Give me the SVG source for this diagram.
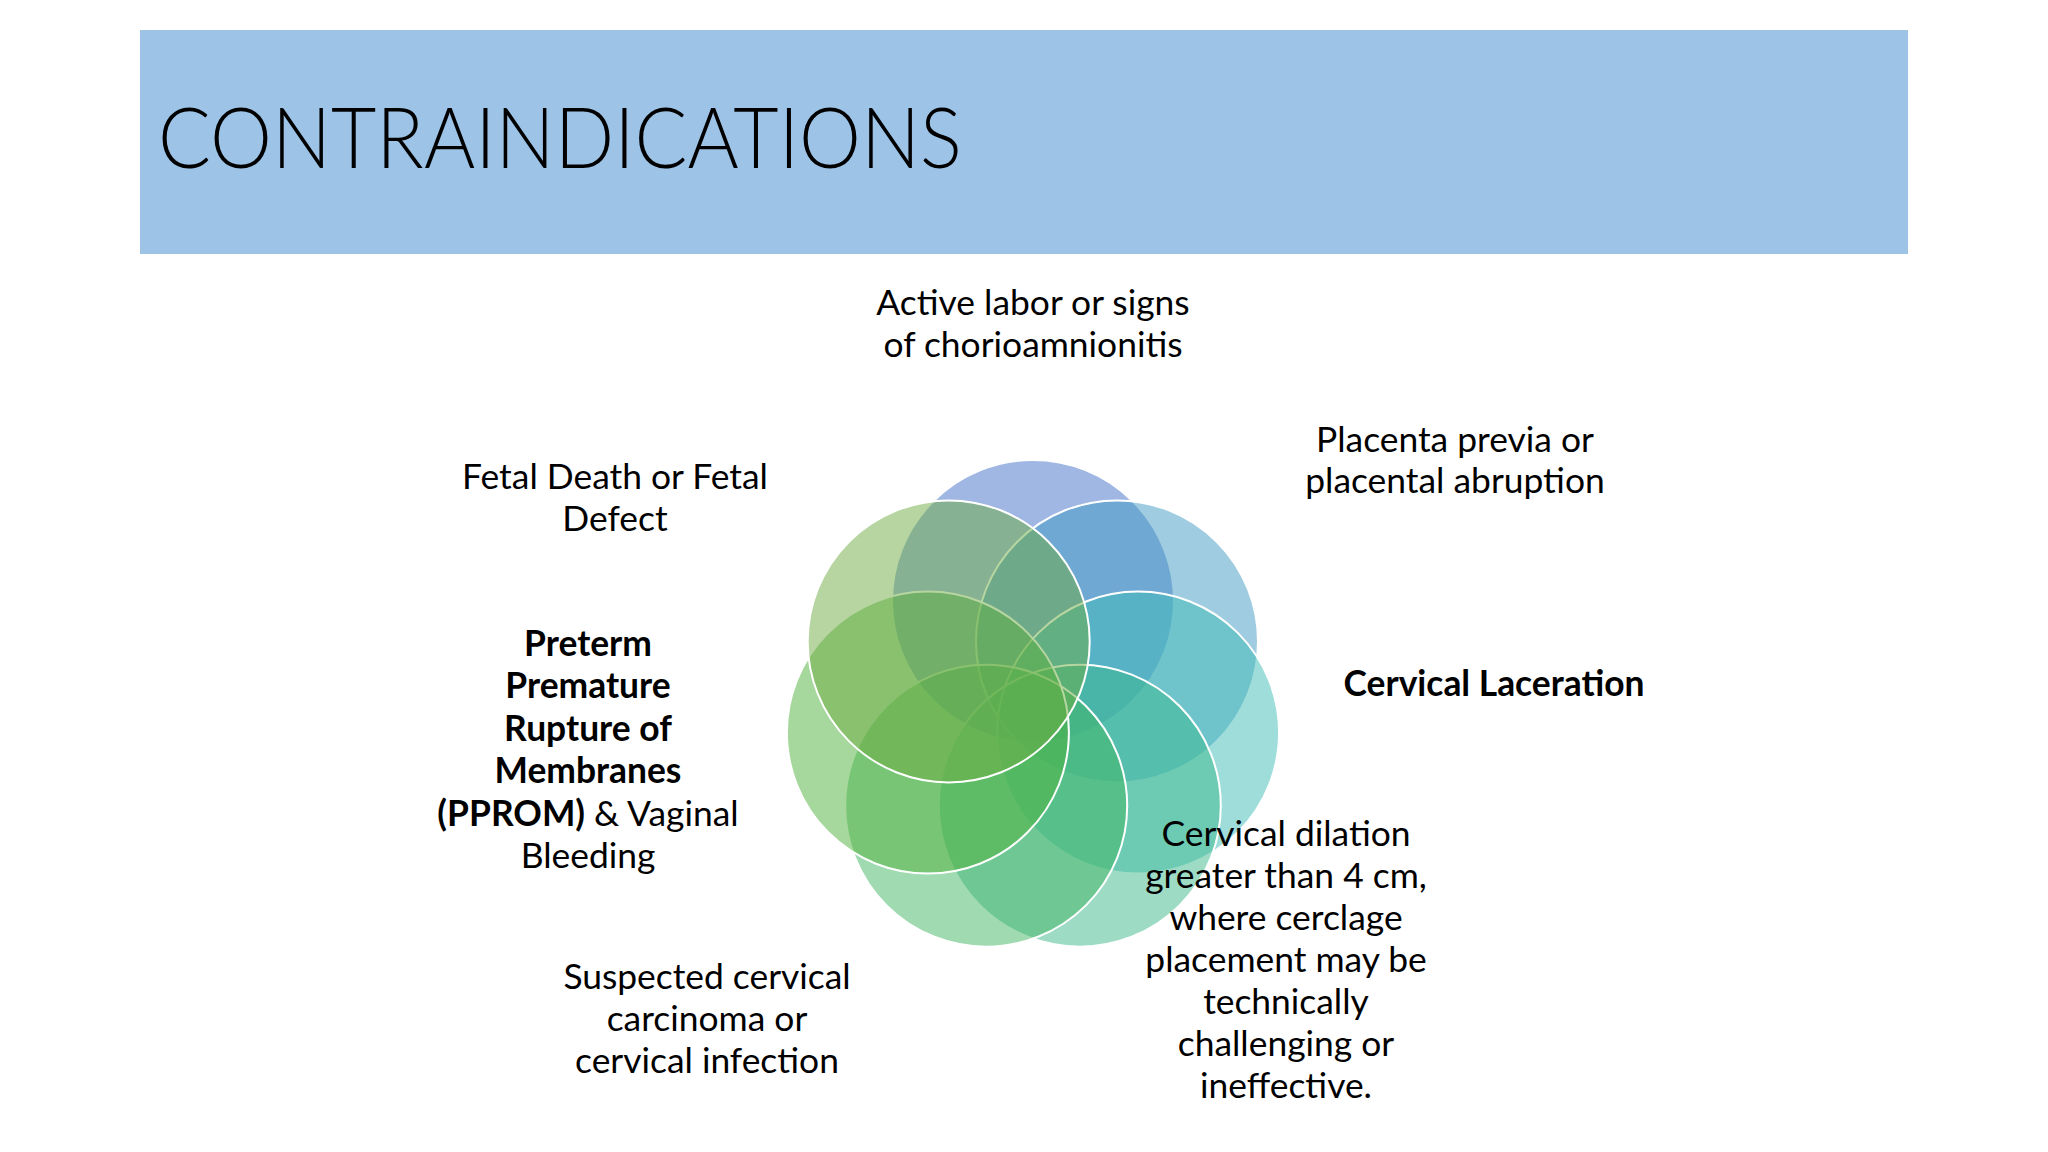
<svg xmlns="http://www.w3.org/2000/svg" width="2048" height="1152" viewBox="0 0 2048 1152">
  <style>
    .c { stroke: #ffffff; stroke-width: 2; fill-opacity: 0.5; }
    .t { font-family: Lato, "Liberation Sans", sans-serif; font-size: 35.4px; fill: #000000; text-anchor: middle; }
    .b { font-weight: bold; }
    .title { font-family: Lato, "Liberation Sans", sans-serif; font-weight: 300; font-size: 84px; fill: #000000; }
  </style>
  <rect x="0" y="0" width="2048" height="1152" fill="#ffffff"/>
  <g id="header">
    <rect x="140" y="30" width="1768" height="224" fill="#9DC3E6"/>
    <text class="title" x="158" y="168" textLength="804" lengthAdjust="spacingAndGlyphs">CONTRAINDICATIONS</text>
  </g>
  <g id="node1">
    <circle class="c" cx="1033" cy="601" r="141" fill="#3F6FC5"/>
    <text class="t" x="1033" y="315">Active labor or signs</text>
    <text class="t" x="1033" y="357">of chorioamnionitis</text>
  </g>
  <g id="node2">
    <circle class="c" cx="1117" cy="641.4" r="141" fill="#3F99C1"/>
    <text class="t" x="1455" y="452">Placenta previa or</text>
    <text class="t" x="1455" y="493">placental abruption</text>
  </g>
  <g id="node3">
    <circle class="c" cx="1138.1" cy="732.6" r="141" fill="#3FBBB7"/>
    <text class="t b" x="1494" y="696">Cervical Laceration</text>
  </g>
  <g id="node4">
    <circle class="c" cx="1079.8" cy="805.7" r="141" fill="#3BB78B"/>
    <text class="t" x="1286" y="846">Cervical dilation</text>
    <text class="t" x="1286" y="888">greater than 4 cm,</text>
    <text class="t" x="1286" y="930">where cerclage</text>
    <text class="t" x="1286" y="972">placement may be</text>
    <text class="t" x="1286" y="1014">technically</text>
    <text class="t" x="1286" y="1056">challenging or</text>
    <text class="t" x="1286" y="1098">ineffective.</text>
  </g>
  <g id="node5">
    <circle class="c" cx="986.2" cy="805.7" r="141" fill="#41B561"/>
    <text class="t" x="707" y="989">Suspected cervical</text>
    <text class="t" x="707" y="1031">carcinoma or</text>
    <text class="t" x="707" y="1073">cervical infection</text>
  </g>
  <g id="node6">
    <circle class="c" cx="927.9" cy="732.6" r="141" fill="#4DAF39"/>
    <text class="t b" x="588" y="656">Preterm</text>
    <text class="t b" x="588" y="698">Premature</text>
    <text class="t b" x="588" y="741">Rupture of</text>
    <text class="t b" x="588" y="783">Membranes</text>
    <text class="t" x="588" y="826"><tspan class="b">(PPROM)</tspan> &amp; Vaginal</text>
    <text class="t" x="588" y="868">Bleeding</text>
  </g>
  <g id="node7">
    <circle class="c" cx="948.7" cy="641.4" r="141" fill="#6DAB41"/>
    <text class="t" x="615" y="489">Fetal Death or Fetal</text>
    <text class="t" x="615" y="531">Defect</text>
  </g>
</svg>
